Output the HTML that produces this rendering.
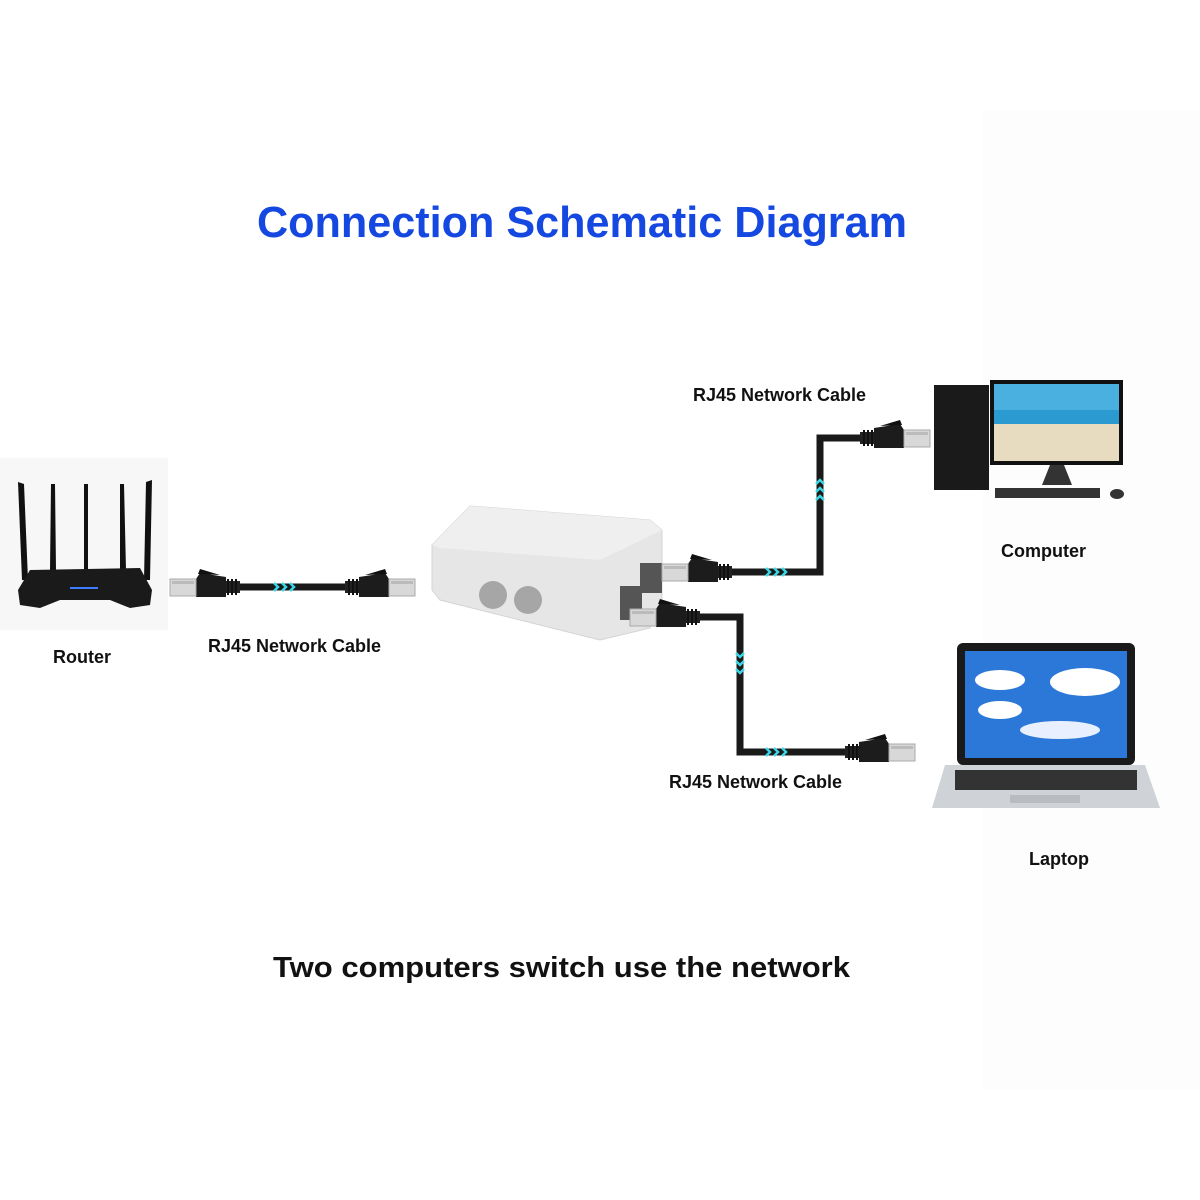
<!DOCTYPE html>
<html><head><meta charset="utf-8"><style>body{margin:0;background:#fff}svg{display:block}text{font-family:"Liberation Sans",sans-serif;font-weight:bold}</style></head>
<body>
<svg width="1200" height="1200" viewBox="0 0 1200 1200">
<defs>
<g id="plugR">
<rect x="0" y="-6" width="14" height="12" fill="#222"/>
<rect x="3" y="-8" width="2" height="16" fill="#111"/><rect x="7" y="-8" width="2" height="16" fill="#111"/><rect x="11" y="-8" width="2" height="16" fill="#111"/>
<path d="M14 -10 L40 -14 L44 -8 L44 10 L14 10 Z" fill="#1c1c1c"/>
<path d="M20 -12 L40 -18 L42 -13 Z" fill="#111"/>
<rect x="44" y="-8" width="26" height="17" fill="#d8d8d8" stroke="#aaa"/>
<rect x="46" y="-6" width="22" height="3" fill="#bbb"/>
</g>
<g id="chev" fill="none" stroke="#3ad6e6" stroke-width="2.5">
<polyline points="-12,-4 -8,0 -12,4"/><polyline points="-4,-4 0,0 -4,4"/><polyline points="4,-4 8,0 4,4"/>
</g>
</defs>
<rect x="983" y="110" width="217" height="980" fill="#fdfdfd"/>
<text x="257" y="237" font-size="44" fill="#1448e0" textLength="650" lengthAdjust="spacingAndGlyphs">Connection Schematic Diagram</text>

<!-- router -->
<rect x="0" y="458" width="168" height="172" fill="#f7f7f7"/>
<g fill="#111">
<path d="M18 482 L24 484 L28 580 L22 580 Z"/>
<path d="M51 484 L55 484 L56 570 L50 570 Z"/>
<path d="M84 484 L88 484 L88 570 L84 570 Z"/>
<path d="M120 484 L124 484 L126 570 L120 570 Z"/>
<path d="M146 482 L152 480 L150 580 L144 580 Z"/>
<path d="M30 570 L140 568 L152 590 L150 605 L130 608 L110 600 L60 600 L40 608 L20 605 L18 590 Z" fill="#1a1a1a"/>
</g>
<rect x="70" y="587" width="28" height="2" fill="#3a7bff"/>
<text x="53" y="663" font-size="18" fill="#111">Router</text>

<!-- left cable -->
<line x1="240" y1="587" x2="345" y2="587" stroke="#1a1a1a" stroke-width="7"/>
<use href="#chev" transform="translate(286,587)"/>
<use href="#plugR" transform="translate(345,587)"/>
<use href="#plugR" transform="translate(240,587) scale(-1,1)"/>
<text x="208" y="652" font-size="18" fill="#111">RJ45 Network Cable</text>

<!-- switch -->
<path d="M432 545 L470 506 L650 520 L662 530 L662 600 L650 628 L600 640 L440 600 L432 590 Z" fill="#e6e6e6" stroke="#d4d4d4"/>
<path d="M432 545 L470 506 L650 520 L662 530 L600 560 L440 548 Z" fill="#efefef"/>
<rect x="640" y="563" width="22" height="30" fill="#555"/>
<rect x="620" y="586" width="22" height="34" fill="#555"/>
<circle cx="493" cy="595" r="14" fill="#a6a6a6"/><circle cx="528" cy="600" r="14" fill="#a6a6a6"/>

<!-- top-right cable -->
<path d="M732 572 L820 572 L820 438 L860 438" fill="none" stroke="#1a1a1a" stroke-width="7"/>
<use href="#chev" transform="translate(778,572)"/>
<use href="#chev" transform="translate(820,488) rotate(-90)"/>
<use href="#plugR" transform="translate(732,572) scale(-1,1)"/>
<use href="#plugR" transform="translate(860,438)"/>
<text x="693" y="401" font-size="18" fill="#111">RJ45 Network Cable</text>

<!-- bottom cable -->
<path d="M700 617 L740 617 L740 752 L845 752" fill="none" stroke="#1a1a1a" stroke-width="7"/>
<use href="#chev" transform="translate(778,752)"/>
<use href="#chev" transform="translate(740,665) rotate(90)"/>
<use href="#plugR" transform="translate(700,617) scale(-1,1)"/>
<use href="#plugR" transform="translate(845,752)"/>
<text x="669" y="788" font-size="18" fill="#111">RJ45 Network Cable</text>

<!-- computer -->
<rect x="934" y="385" width="55" height="105" fill="#1a1a1a"/>
<rect x="990" y="380" width="133" height="85" fill="#111"/>
<rect x="994" y="384" width="125" height="77" fill="#4ab0e0"/>
<rect x="994" y="420" width="125" height="41" fill="#e8dcc0"/>
<rect x="994" y="410" width="125" height="14" fill="#2a9ad0"/>
<path d="M1050 465 L1042 485 L1072 485 L1064 465 Z" fill="#333"/>
<rect x="995" y="488" width="105" height="10" fill="#333"/>
<ellipse cx="1117" cy="494" rx="7" ry="5" fill="#333"/>
<text x="1001" y="557" font-size="18" fill="#111">Computer</text>

<!-- laptop -->
<rect x="957" y="643" width="178" height="122" rx="6" fill="#1a1a1a"/>
<rect x="965" y="651" width="162" height="107" fill="#2b78d8"/>
<ellipse cx="1000" cy="680" rx="25" ry="10" fill="#fff"/><ellipse cx="1085" cy="682" rx="35" ry="14" fill="#fff"/><ellipse cx="1000" cy="710" rx="22" ry="9" fill="#fff"/><ellipse cx="1060" cy="730" rx="40" ry="9" fill="#e8f0ff"/>
<path d="M945 765 L1145 765 L1160 808 L932 808 Z" fill="#cfd2d6"/>
<rect x="955" y="770" width="182" height="20" fill="#333"/>
<rect x="1010" y="795" width="70" height="8" fill="#b8bcc0"/>
<text x="1029" y="865" font-size="18" fill="#111">Laptop</text>

<text x="273" y="977" font-size="29" fill="#111" textLength="577" lengthAdjust="spacingAndGlyphs">Two computers switch use the network</text>
</svg>
</body></html>
